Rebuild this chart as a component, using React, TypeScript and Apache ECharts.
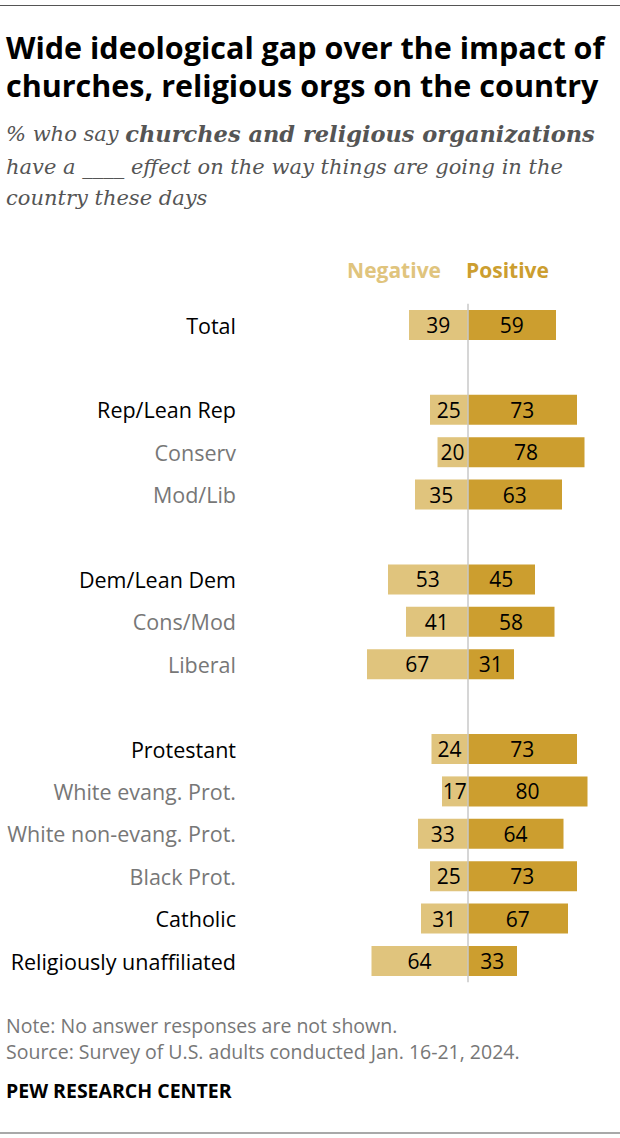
import React, { useEffect, useRef } from "react";
import * as echarts from "echarts";

const categories = [
  "Total",
  " ",
  "Rep/Lean Rep",
  "Conserv",
  "Mod/Lib",
  "  ",
  "Dem/Lean Dem",
  "Cons/Mod",
  "Liberal",
  "   ",
  "Protestant",
  "White evang. Prot.",
  "White non-evang. Prot.",
  "Black Prot.",
  "Catholic",
  "Religiously unaffiliated",
];
const subgroups = [
  "Conserv",
  "Mod/Lib",
  "Cons/Mod",
  "Liberal",
  "White evang. Prot.",
  "White non-evang. Prot.",
  "Black Prot.",
];
const negative: (number | null)[] = [39, null, 25, 20, 35, null, 53, 41, 67, null, 24, 17, 33, 25, 31, 64];
const positive: (number | null)[] = [59, null, 73, 78, 63, null, 45, 58, 31, null, 73, 80, 64, 73, 67, 33];

const titleLines = ["Wide ideological gap over the impact of", "churches, religious orgs on the country"];
const noteText = "Note: No answer responses are not shown.";
const sourceText = "Source: Survey of U.S. adults conducted Jan. 16-21, 2024.";
const brandText = "PEW RESEARCH CENTER";

const NEG_COLOR = "#E0C47D";
const POS_COLOR = "#CC9E2F";
const SANS = "'Open Sans', Roboto, sans-serif";
const SERIF = "'DejaVu Serif', Georgia, serif";

export default function App() {
  const ref = useRef<HTMLDivElement>(null);
  useEffect(() => {
    if (!ref.current) return;
    const chart = echarts.init(ref.current, undefined, { renderer: "svg" });
    const labelStyle = { color: "#000", fontSize: 21, fontFamily: SANS };
    const option: any = {
      animation: false,
      backgroundColor: "#fff",
      grid: { left: 317.5, width: 300, top: 303.8, height: 678.4 },
      xAxis: { type: "value", min: -100, max: 100, show: false },
      yAxis: {
        type: "category",
        inverse: true,
        data: categories,
        axisLine: { show: false },
        axisTick: { show: false },
        splitLine: { show: false },
        axisLabel: {
          margin: 81.5,
          formatter: (v: string) => (v.trim() === "" ? "" : subgroups.includes(v) ? `{s|${v}}` : `{m|${v}}`),
          rich: {
            m: { color: "#000", fontSize: 21.5, fontFamily: SANS },
            s: { color: "#777", fontSize: 21.5, fontFamily: SANS },
          },
        },
      },
      series: [
        {
          type: "bar",
          name: "Negative",
          stack: "a",
          barWidth: 30,
          data: negative.map((v) => (v == null ? null : -v)),
          itemStyle: { color: NEG_COLOR },
          label: {
            show: true,
            position: "inside",
            formatter: (p: any) => String(Math.abs(p.value)),
            ...labelStyle,
          },
        },
        {
          type: "bar",
          name: "Positive",
          stack: "a",
          barWidth: 30,
          data: positive,
          itemStyle: { color: POS_COLOR },
          label: {
            show: true,
            position: "inside",
            formatter: (p: any) => String(p.value),
            ...labelStyle,
          },
          markLine: {
            silent: true,
            symbol: "none",
            label: { show: false },
            lineStyle: { color: "#C8C8C8", width: 1.5, type: "solid" },
            data: [{ xAxis: 0 }],
            z: 10,
          },
        },
      ],
      graphic: [
        { type: "line", shape: { x1: 0, y1: 5.5, x2: 620, y2: 5.5 }, style: { stroke: "#555", lineWidth: 1.2 } },
        ...titleLines.map((t, i) => ({
          type: "text",
          x: 6,
          y: 47 + i * 38.4,
          style: { text: t, font: `bold 30.5px ${SANS}`, fill: "#000", verticalAlign: "middle" },
        })),
        {
          type: "text",
          x: 6,
          y: 134,
          style: {
            text: "{i|% who say }{b|churches and religious organizations}",
            verticalAlign: "middle",
            rich: {
              i: { fontFamily: SERIF, fontStyle: "italic", fontSize: 21, fill: "#555" },
              b: { fontFamily: SERIF, fontStyle: "italic", fontWeight: "bold", fontSize: 22.5, fill: "#555" },
            },
          },
        },
        {
          type: "text",
          x: 6,
          y: 167,
          style: { text: "have a ____ effect on the way things are going in the", font: `italic 21px ${SERIF}`, fill: "#555", verticalAlign: "middle" },
        },
        {
          type: "text",
          x: 6,
          y: 197.5,
          style: { text: "country these days", font: `italic 21px ${SERIF}`, fill: "#555", verticalAlign: "middle" },
        },
        {
          type: "text",
          x: 441,
          y: 270,
          style: { text: "Negative", font: `bold 21px ${SANS}`, fill: NEG_COLOR, align: "right", verticalAlign: "middle" },
        },
        {
          type: "text",
          x: 466,
          y: 270,
          style: { text: "Positive", font: `bold 21px ${SANS}`, fill: POS_COLOR, align: "left", verticalAlign: "middle" },
        },
        {
          type: "text",
          x: 6,
          y: 1025,
          style: { text: noteText, font: `19.5px ${SANS}`, fill: "#777", verticalAlign: "middle" },
        },
        {
          type: "text",
          x: 6,
          y: 1051.5,
          style: { text: sourceText, font: `19.5px ${SANS}`, fill: "#777", verticalAlign: "middle" },
        },
        {
          type: "text",
          x: 6,
          y: 1090,
          style: { text: brandText, font: `bold 19.5px ${SANS}`, fill: "#000", verticalAlign: "middle" },
        },
        { type: "line", shape: { x1: 0, y1: 1133, x2: 620, y2: 1133 }, style: { stroke: "#555", lineWidth: 1.2 } },
      ],
    };
    chart.setOption(option);
    return () => chart.dispose();
  }, []);
  return <div ref={ref} style={{ position: "absolute", left: 0, top: 0, width: 620, height: 1138 }} />;
}
